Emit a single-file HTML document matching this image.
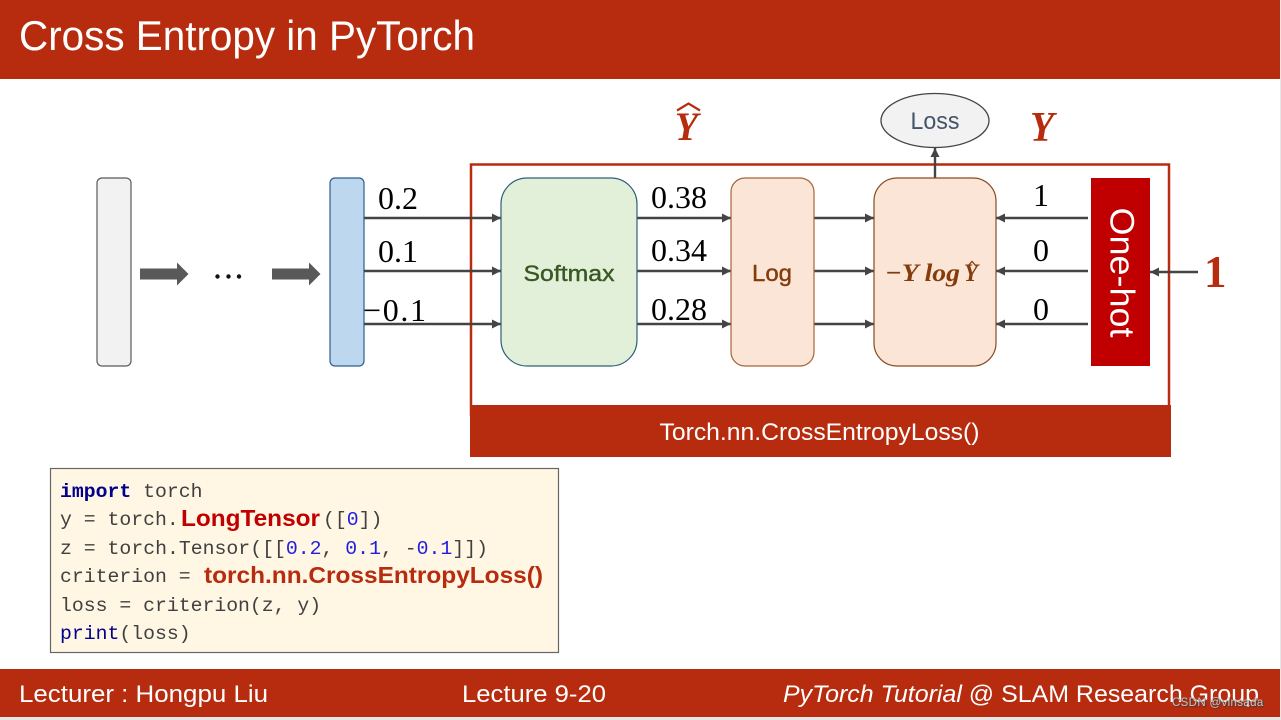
<!DOCTYPE html>
<html><head><meta charset="utf-8"><style>
html,body{margin:0;padding:0;background:#fff;width:1281px;height:720px;overflow:hidden;position:relative}
svg{display:block}
.s{font-family:"Liberation Sans",sans-serif}
.m{font-family:"Liberation Serif",serif}
.c{font-family:"Liberation Mono",monospace;font-size:19.800px;fill:#404040}
.b{fill:#1f1fe0}
#wm{position:absolute;left:1172px;top:697px;font:11.500px/13px "Liberation Sans",sans-serif;color:#c4c4c4;text-shadow:1px 1px 1px #3a3a3a;white-space:nowrap;letter-spacing:.35px}
</style></head><body>
<svg width="1281" height="720" viewBox="0 0 1281 720" xmlns="http://www.w3.org/2000/svg">
<defs>
<marker id="a" markerUnits="userSpaceOnUse" markerWidth="10" markerHeight="11" refX="9" refY="5.500" orient="auto"><path d="M0 1L9 5.500L0 10Z" fill="#444"/></marker>
</defs>
<rect width="1281" height="720" fill="#fff"/>
<rect x="0" y="0" width="1281" height="79" fill="#b72b0e"/>
<text class="s" x="19" y="50" font-size="42" fill="#fff" textLength="456" lengthAdjust="spacingAndGlyphs">Cross Entropy in PyTorch</text>

<!-- red frame -->
<rect x="471" y="164.500" width="698" height="250" fill="none" stroke="#b72b0e" stroke-width="2.500"/>
<rect x="470" y="405" width="701" height="52" fill="#b72b0e"/>
<text class="s" x="819.500" y="440" font-size="24" fill="#fff" text-anchor="middle" textLength="320" lengthAdjust="spacingAndGlyphs">Torch.nn.CrossEntropyLoss()</text>

<!-- left bars -->
<rect x="97" y="178" width="34" height="188" rx="5" fill="#f2f2f2" stroke="#595959" stroke-width="1.200"/>
<rect x="330" y="178" width="34" height="188" rx="5" fill="#bdd7ee" stroke="#2e5f8a" stroke-width="1.200"/>
<path d="M140 268.500H177V262.500L188.500 274L177 285.500V279.500H140Z" fill="#595959"/>
<path d="M272 268.500H309V262.500L320.500 274L309 285.500V279.500H272Z" fill="#595959"/>
<circle cx="217.500" cy="276.500" r="2.200" fill="#111"/><circle cx="228.500" cy="276.500" r="2.200" fill="#111"/><circle cx="239" cy="276.500" r="2.200" fill="#111"/>

<!-- arrows -->
<g stroke="#444" stroke-width="2.400" fill="none">
<line x1="364" y1="218" x2="501" y2="218" marker-end="url(#a)"/>
<line x1="364" y1="271" x2="501" y2="271" marker-end="url(#a)"/>
<line x1="364" y1="324" x2="501" y2="324" marker-end="url(#a)"/>
<line x1="637" y1="218" x2="731" y2="218" marker-end="url(#a)"/>
<line x1="637" y1="271" x2="731" y2="271" marker-end="url(#a)"/>
<line x1="637" y1="324" x2="731" y2="324" marker-end="url(#a)"/>
<line x1="814" y1="218" x2="874" y2="218" marker-end="url(#a)"/>
<line x1="814" y1="271" x2="874" y2="271" marker-end="url(#a)"/>
<line x1="814" y1="324" x2="874" y2="324" marker-end="url(#a)"/>
<line x1="1088" y1="218" x2="996" y2="218" marker-end="url(#a)"/>
<line x1="1088" y1="271" x2="996" y2="271" marker-end="url(#a)"/>
<line x1="1088" y1="324" x2="996" y2="324" marker-end="url(#a)"/>
<line x1="1198" y1="272" x2="1150" y2="272" marker-end="url(#a)"/>
<line x1="935" y1="178" x2="935" y2="148" marker-end="url(#a)"/>
</g>

<!-- boxes -->
<rect x="501" y="178" width="136" height="188" rx="26" fill="#e2f0d9" stroke="#2e5f7a" stroke-width="1.200"/>
<text class="s" x="569" y="281" font-size="22" stroke="#385723" stroke-width=".4" fill="#385723" text-anchor="middle" textLength="91" lengthAdjust="spacingAndGlyphs">Softmax</text>
<rect x="731" y="178" width="83" height="188" rx="14" fill="#fbe5d6" stroke="#a5633a" stroke-width="1.200"/>
<text class="s" x="772" y="281" font-size="23" stroke="#843c0c" stroke-width=".4" fill="#843c0c" text-anchor="middle" textLength="40" lengthAdjust="spacingAndGlyphs">Log</text>
<rect x="874" y="178" width="122" height="188" rx="23" fill="#fbe5d6" stroke="#8a4a20" stroke-width="1.200"/>
<text class="m" x="885" y="281" font-size="25" font-weight="700" font-style="italic" fill="#843c0c" textLength="75" lengthAdjust="spacingAndGlyphs">&#8722;Y log</text>
<text class="m" x="964" y="281" font-size="25" font-weight="700" font-style="italic" fill="#843c0c" textLength="14" lengthAdjust="spacingAndGlyphs">Y</text>
<path d="M967 267L972 261.500L977 267" fill="none" stroke="#843c0c" stroke-width="1.300"/>

<rect x="1091" y="178" width="59" height="188" fill="#c00000"/>
<text class="s" transform="translate(1110.500,272.500) rotate(90)" font-size="34" fill="#fff" text-anchor="middle" textLength="130" lengthAdjust="spacingAndGlyphs">One-hot</text>

<ellipse cx="935" cy="120.500" rx="54" ry="27" fill="#f2f2f2" stroke="#444" stroke-width="1.300"/>
<text class="s" x="935" y="129" font-size="24" fill="#44546a" text-anchor="middle" textLength="49" lengthAdjust="spacingAndGlyphs">Loss</text>

<!-- math labels -->
<text class="m" x="675" y="140" font-size="40" font-weight="700" font-style="italic" fill="#b72b0e" textLength="23" lengthAdjust="spacingAndGlyphs">Y</text>
<path d="M677 110.500L688.500 103.500L700 110.500" fill="none" stroke="#b72b0e" stroke-width="2.200"/>
<text class="m" x="1030" y="141" font-size="42" font-weight="700" font-style="italic" fill="#b72b0e" textLength="24" lengthAdjust="spacingAndGlyphs">Y</text>
<text class="m" x="1204" y="287" font-size="45" font-weight="700" fill="#b72b0e">1</text>

<g class="m" font-size="32" fill="#000">
<text x="378" y="209">0.2</text>
<text x="378" y="262">0.1</text>
<text x="363" y="321" textLength="63">&#8722;0.1</text>
<text x="651" y="208">0.38</text>
<text x="651" y="261">0.34</text>
<text x="651" y="320">0.28</text>
<text x="1033" y="206">1</text>
<text x="1033" y="261">0</text>
<text x="1033" y="320">0</text>
</g>

<!-- code -->
<rect x="50.500" y="468.500" width="508" height="184" fill="#fff6e3" stroke="#666" stroke-width="1.200"/>
<text class="c" x="60" y="497"><tspan fill="#00008b" font-weight="700">import</tspan> torch</text>
<text class="c" x="60" y="525">y = torch.</text>
<text class="s" x="181" y="526" font-size="23" font-weight="700" fill="#c00000" textLength="139" lengthAdjust="spacingAndGlyphs">LongTensor</text>
<text class="c" x="323" y="525">([<tspan class="b">0</tspan>])</text>
<text class="c" x="60" y="554" textLength="428" lengthAdjust="spacingAndGlyphs">z = torch.Tensor([[<tspan class="b">0.2</tspan>, <tspan class="b">0.1</tspan>, -<tspan class="b">0.1</tspan>]])</text>
<text class="c" x="60" y="582">criterion = </text>
<text class="s" x="204" y="583" font-size="23" font-weight="700" fill="#b72b0e" textLength="339" lengthAdjust="spacingAndGlyphs">torch.nn.CrossEntropyLoss()</text>
<text class="c" x="60" y="611">loss = criterion(z, y)</text>
<text class="c" x="60" y="639"><tspan fill="#00008b">print</tspan>(loss)</text>

<!-- footer -->
<rect x="0" y="669" width="1281" height="48" fill="#b72b0e"/>
<rect x="0" y="717" width="1281" height="3" fill="#e6e6e6"/>
<rect x="1280" y="0" width="1" height="720" fill="#e6e6e6"/>
<text class="s" x="19" y="702" font-size="24" fill="#fff" textLength="249" lengthAdjust="spacingAndGlyphs">Lecturer : Hongpu Liu</text>
<text class="s" x="462" y="702" font-size="24" fill="#fff" textLength="144" lengthAdjust="spacingAndGlyphs">Lecture 9-20</text>
<text class="s" x="783" y="702" font-size="24" fill="#fff" textLength="476" lengthAdjust="spacingAndGlyphs"><tspan font-style="italic">PyTorch Tutorial</tspan> @ SLAM Research Group</text>
</svg>
<div id="wm">CSDN @vinsada</div>
</body></html>
